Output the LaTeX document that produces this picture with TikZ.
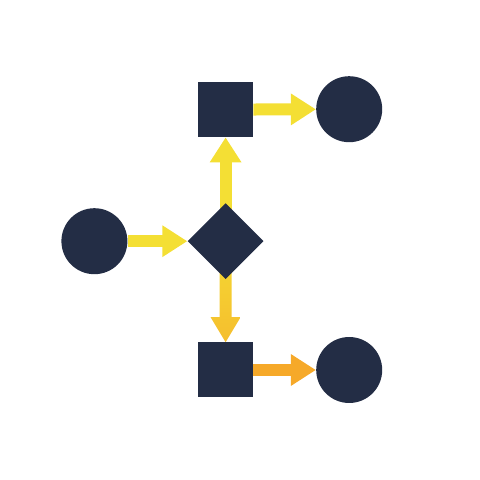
\documentclass[tikz,border=0pt]{standalone}
\usepackage{tikz}
\usetikzlibrary{shapes.geometric}
\usetikzlibrary{arrows,arrows.meta}
\usetikzlibrary{calc,backgrounds}
\definecolor{navy}{RGB}{35, 45, 69}
\definecolor{gelb}{RGB}{244, 223, 52}
\definecolor{gelbdunkel}{RGB}{245, 190, 46}
\definecolor{orange}{RGB}{246, 169, 41}
\tikzset{
	kreis/.style={circle, fill=navy, minimum size=1.65cm, inner sep=0pt},
	quadrat/.style={rectangle, fill=navy, minimum size=1.375cm, inner sep=0pt},
	raute/.style={diamond, fill=navy, minimum width=1.9cm, minimum height=1.9cm, inner sep=0pt},
	pfeil/.style={line width=0.3cm, -{Triangle[width=0.75cm, length=0.625cm]}},
}

\begin{document}
\begin{tikzpicture}
	\useasboundingbox (0,0) rectangle (12,12);

	\node[kreis] (start) at (2.36,5.97) {};
	\node[raute] (weiche) at (5.64,5.97) {};
	\node[quadrat] (oben) at (5.64,9.26) {};
	\node[quadrat] (unten) at (5.64,2.75) {};
	\node[kreis] (zielo) at (8.73,9.27) {};
	\node[kreis] (zielu) at (8.73,2.75) {};

	\begin{scope}[on background layer]
		\draw[pfeil, gelb] (start) -- (weiche);
		\draw[pfeil, gelb] (weiche.center) -- (oben);
		\draw[pfeil, gelb] (oben) -- (zielo);
		\draw[pfeil, orange] (unten) -- (zielu);
		% weiche -> unten mit Verlauf
		\shade[top color=gelb!85!gelbdunkel, bottom color=gelbdunkel]
			($(weiche.center)+(-0.15,0)$) -- ($(unten.north)+(-0.15,0.625)$) -- ++(-0.225,0)
			-- (unten.north) -- ($(unten.north)+(0.375,0.625)$) -- ++(-0.225,0)
			-- ($(weiche.center)+(0.15,0)$) -- cycle;
	\end{scope}

\end{tikzpicture}
\end{document}
